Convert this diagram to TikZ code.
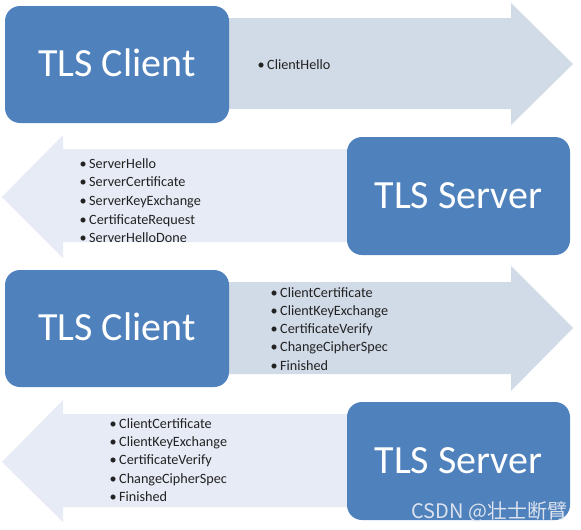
\documentclass[tikz,border=0pt]{standalone}
\usepackage{fontspec}
\setmainfont{Carlito}
\newfontfamily\cjkfont{Noto Sans CJK SC}
\definecolor{boxblue}{HTML}{4F81BD}
\definecolor{arrowR}{HTML}{D1DAE7}
\definecolor{arrowL}{HTML}{E7EBF6}
\definecolor{itemtext}{HTML}{222222}
\definecolor{wmark}{HTML}{DCE3EE}
\newcommand\itembul{\makebox[9.5pt][l]{\textbullet}}
\begin{document}
\begin{tikzpicture}[x=1pt,y=-1pt]
\tikzset{
  party/.style={rectangle, rounded corners=15pt, fill=boxblue, text=white,
    minimum width=224pt, minimum height=117pt, inner sep=0pt,
    font=\fontsize{40}{40}\selectfont, text height=24pt, text depth=0pt},
  rarrow/.style={fill=arrowR},
  larrow/.style={fill=arrowL},
  item/.style={anchor=base west, inner sep=0pt, text=itemtext,
    font=\fontsize{14.2}{17}\selectfont},
}
\useasboundingbox (0,0) rectangle (581,530);
\fill[white] (0,0) rectangle (581,530);

% arrows
\fill[rarrow] (200,18) -- (511,18) -- (511,3) -- (573,64) -- (511,125) -- (511,109) -- (200,109) -- cycle;
\fill[larrow] (400,149) -- (63,149) -- (63,135) -- (2,197) -- (63,258) -- (63,242) -- (400,242) -- cycle;
\fill[rarrow] (200,282) -- (511,282) -- (511,266) -- (573,328) -- (511,391) -- (511,374) -- (200,374) -- cycle;
\fill[larrow] (400,414) -- (63,414) -- (63,400) -- (2,462) -- (63,522) -- (63,507) -- (400,507) -- cycle;

% parties
\node[party] (client1) at (117,64.5) {TLS Client};
\node[party, minimum width=223pt, minimum height=118pt] (server1) at (458.5,196) {TLS Server};
\node[party] (client2) at (117,328.5) {TLS Client};
\node[party, minimum width=223pt, minimum height=118pt] (server2) at (458.5,461) {TLS Server};

% messages
\node[item] (m1-1) at (257.5,69) {\itembul ClientHello};
\foreach \t [count=\i] in {ServerHello,ServerCertificate,ServerKeyExchange,CertificateRequest,ServerHelloDone}
  \node[item] (m2-\i) at ({79.5},{168+18.7*(\i-1)}) {\itembul\t};
\foreach \t [count=\i] in {ClientCertificate,ClientKeyExchange,CertificateVerify,ChangeCipherSpec,Finished}
  \node[item] (m3-\i) at ({270.5},{297+18.25*(\i-1)}) {\itembul\t};
\foreach \t [count=\i] in {ClientCertificate,ClientKeyExchange,CertificateVerify,ChangeCipherSpec,Finished}
  \node[item] (m4-\i) at ({109.5},{428+18.4*(\i-1)}) {\itembul\t};

% watermark
\node[anchor=base, inner sep=0pt, text=wmark, font=\cjkfont\fontsize{20}{20}\selectfont] (wm) at (489.5,518) {CSDN @壮士断臂};
\end{tikzpicture}
\end{document}
